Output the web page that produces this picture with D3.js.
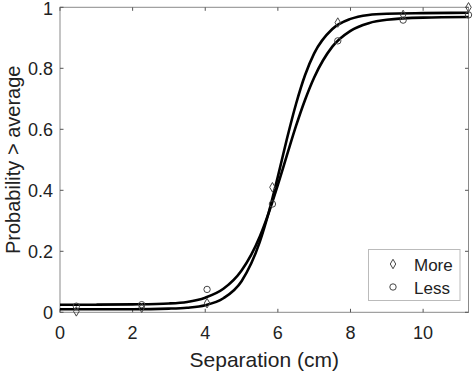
<!DOCTYPE html>
<html>
<head>
<meta charset="utf-8">
<script src="https://cdn.jsdelivr.net/npm/d3@7"></script>
<style>
  body { margin: 0; background: #fff; }
  text { font-family: "Liberation Sans", Arial, sans-serif; fill: #222; }
</style>
</head>
<body>
<svg id="chart" width="474" height="374"></svg>
<script>
// measured points
const sepX = [0.45, 2.25, 4.05, 5.85, 7.65, 9.45, 11.25];
const moreVals = [0.003, 0.015, 0.03, 0.41, 0.95, 0.975, 1.0];
const lessVals = [0.02, 0.025, 0.075, 0.355, 0.89, 0.958, 0.975];

// fitted curves
const curveX = [0, 1, 2, 3, 3.5, 4, 4.5, 5, 5.5, 5.75, 6, 6.25, 6.5, 6.75, 7, 7.5, 8, 8.5, 9, 10, 11.25];
const moreFit = [0.010, 0.010, 0.010, 0.012, 0.015, 0.023, 0.046, 0.102, 0.230, 0.328, 0.445, 0.569, 0.683, 0.778, 0.849, 0.929, 0.962, 0.975, 0.979, 0.981, 0.982];
const lessFit = [0.025, 0.025, 0.026, 0.029, 0.034, 0.048, 0.077, 0.137, 0.248, 0.327, 0.418, 0.515, 0.611, 0.697, 0.770, 0.871, 0.923, 0.948, 0.959, 0.966, 0.968];

const xTicks = [0, 2, 4, 6, 8, 10];
const yTicks = [0, 0.2, 0.4, 0.6, 0.8, 1];

const svg = d3.select("#chart");
const plotL = 60, plotR = 468.5, plotT = 7.3, plotB = 312.3;

const x = d3.scaleLinear().domain([0, 11.25]).range([plotL, plotR]);
const y = d3.scaleLinear().domain([0, 1]).range([plotB, plotT]);

// box
svg.append("rect")
    .attr("x", plotL).attr("y", plotT)
    .attr("width", plotR - plotL).attr("height", plotB - plotT)
    .attr("fill", "#fff").attr("stroke", "#8a8a8a").attr("stroke-width", 1);

// ticks (inward, all four sides)
const tickLen = 3.5;
const gt = svg.append("g").attr("stroke", "#555").attr("stroke-width", 1);
xTicks.forEach(t => {
    gt.append("line").attr("x1", x(t)).attr("x2", x(t)).attr("y1", plotB).attr("y2", plotB - tickLen);
    gt.append("line").attr("x1", x(t)).attr("x2", x(t)).attr("y1", plotT).attr("y2", plotT + tickLen);
});
yTicks.forEach(t => {
    gt.append("line").attr("x1", plotL).attr("x2", plotL + tickLen).attr("y1", y(t)).attr("y2", y(t));
    gt.append("line").attr("x1", plotR).attr("x2", plotR - tickLen).attr("y1", y(t)).attr("y2", y(t));
});

svg.append("g").selectAll("text")
    .data(xTicks).enter().append("text")
    .attr("x", d => x(d)).attr("y", 339)
    .attr("text-anchor", "middle")
    .attr("font-size", 18)
    .text(d => d3.format("")(d));

svg.append("g").selectAll("text")
    .data(yTicks).enter().append("text")
    .attr("x", 53).attr("y", d => y(d))
    .attr("dy", d => d === 1 ? "0.45em" : "0.36em")
    .attr("text-anchor", "end")
    .attr("font-size", 18)
    .text(d => d3.format("")(d));

// axis titles
svg.append("text")
    .attr("x", (plotL + plotR) / 2).attr("y", 366.5)
    .attr("text-anchor", "middle")
    .attr("font-size", 21)
    .text("Separation (cm)");

svg.append("text")
    .attr("transform", `translate(19.5,${(plotT + plotB) / 2}) rotate(-90)`)
    .attr("text-anchor", "middle")
    .attr("font-size", 20)
    .text("Probability > average");

// fit lines
const line = d3.line()
    .x(d => x(d[0]))
    .y(d => y(d[1]))
    .curve(d3.curveMonotoneX);

[moreFit, lessFit].forEach(vals => {
    svg.append("path")
        .datum(curveX.map((cx, i) => [cx, vals[i]]))
        .attr("d", line)
        .attr("fill", "none")
        .attr("stroke", "#000")
        .attr("stroke-width", 2.6);
});

// data markers
const diamond = d3.symbol().type(d3.symbolDiamond).size(26);
const circle = d3.symbol().type(d3.symbolCircle).size(32);

svg.append("g").selectAll("path")
    .data(sepX.map((sx, i) => [sx, moreVals[i]])).enter().append("path")
    .attr("d", diamond)
    .attr("transform", d => `translate(${x(d[0])},${y(d[1])})`)
    .attr("fill", "none").attr("stroke", "#444").attr("stroke-width", 1);

svg.append("g").selectAll("path")
    .data(sepX.map((sx, i) => [sx, lessVals[i]])).enter().append("path")
    .attr("d", circle)
    .attr("transform", d => `translate(${x(d[0])},${y(d[1])})`)
    .attr("fill", "none").attr("stroke", "#444").attr("stroke-width", 1);

// legend
const lg = svg.append("g");
lg.append("rect")
    .attr("x", 368.5).attr("y", 249.5).attr("width", 91.5).attr("height", 51)
    .attr("fill", "#fff").attr("stroke", "#bbb").attr("stroke-width", 1);
lg.append("path").attr("d", diamond)
    .attr("transform", "translate(393,264)")
    .attr("fill", "none").attr("stroke", "#444");
lg.append("path").attr("d", circle)
    .attr("transform", "translate(393,287)")
    .attr("fill", "none").attr("stroke", "#444");
lg.append("text").attr("x", 414).attr("y", 270.5).attr("font-size", 17).text("More");
lg.append("text").attr("x", 414).attr("y", 294).attr("font-size", 17).text("Less");
</script>
</body>
</html>
